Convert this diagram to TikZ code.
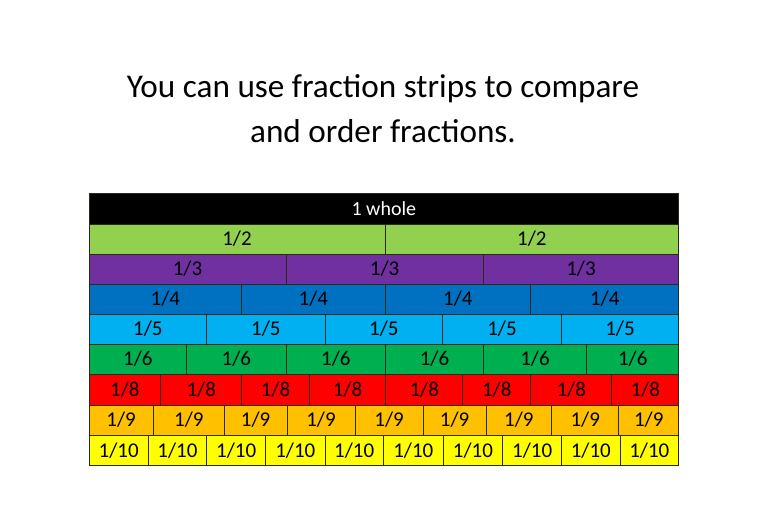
\documentclass[tikz,border=0pt]{standalone}
\usepackage{fontspec}
\setmainfont{Carlito}
\definecolor{cBlack}{HTML}{000000}
\definecolor{cHalf}{HTML}{92D050}
\definecolor{cThird}{HTML}{7030A0}
\definecolor{cQuarter}{HTML}{0070C0}
\definecolor{cFifth}{HTML}{00B0F0}
\definecolor{cSixth}{HTML}{00B050}
\definecolor{cEighth}{HTML}{FF0000}
\definecolor{cNinth}{HTML}{FFC000}
\definecolor{cTenth}{HTML}{FFFF00}
\definecolor{cBorder}{HTML}{2A2A1A}
\tikzset{
  cell/.style={draw=cBorder, line width=0.8pt, rectangle, inner sep=0pt, outer sep=0pt,
    font=\fontsize{21}{25}\selectfont, text height=13.5pt, text depth=0pt},
  titletext/.style={font=\fontsize{33.2}{40}\selectfont, anchor=base, inner sep=0pt}
}
\newcommand\striprow[7]{%
  \foreach \xb [remember=\xb as \xa (initially 0), count=\k] in {#7}{%
    \ifnum\k>1
      \pgfmathsetmacro\cw{\xb-\xa}%
      \pgfmathsetmacro\ch{#3-#2}%
      \pgfmathsetmacro\cx{(\xa+\xb)/2}%
      \pgfmathsetmacro\cy{(#2+#3)/2}%
      \node[cell, fill=#4, text=#5, minimum width=\cw pt, minimum height=\ch pt] (#1c\k) at (\cx,\cy) {#6};
    \fi
  }%
}
\begin{document}
\begin{tikzpicture}[x=1pt, y=-1pt]
\useasboundingbox[fill=white] (0,0) rectangle (768,519);
\node[titletext] (title1) at (383,97) {You can use fraction strips to compare};
\node[titletext] (title2) at (383,142) {and order fractions.};
\striprow{r0}{193.5}{224}{cBlack}{white}{\fontsize{20}{24}\selectfont 1 whole}{89,678.7}
\striprow{r1}{224}{254}{cHalf}{black}{1/2}{89,385,678.7}
\striprow{r2}{254}{284.3}{cThird}{black}{1/3}{89,286,483.3,678.7}
\striprow{r3}{284.3}{314}{cQuarter}{black}{1/4}{89,241.7,385,530.7,678.7}
\striprow{r4}{314}{344}{cFifth}{black}{1/5}{89,206.7,325,442.7,561.3,678.7}
\striprow{r5}{344}{374.3}{cSixth}{black}{1/6}{89,186.7,286,385.7,483.3,586.7,678.7}
\striprow{r6}{374.3}{405}{cEighth}{black}{1/8}{89,160.7,241.7,309.3,385.7,462.7,530.7,611.7,678.7}
\striprow{r7}{405}{435}{cNinth}{black}{1/9}{89,153.3,224.3,287,355,423.3,486,551.7,618.7,678.7}
\striprow{r8}{435}{465.5}{cTenth}{black}{1/10}{89,148.3,206.7,265.7,325,383.3,443.3,502.7,561.7,620,678.7}
\end{tikzpicture}
\end{document}
